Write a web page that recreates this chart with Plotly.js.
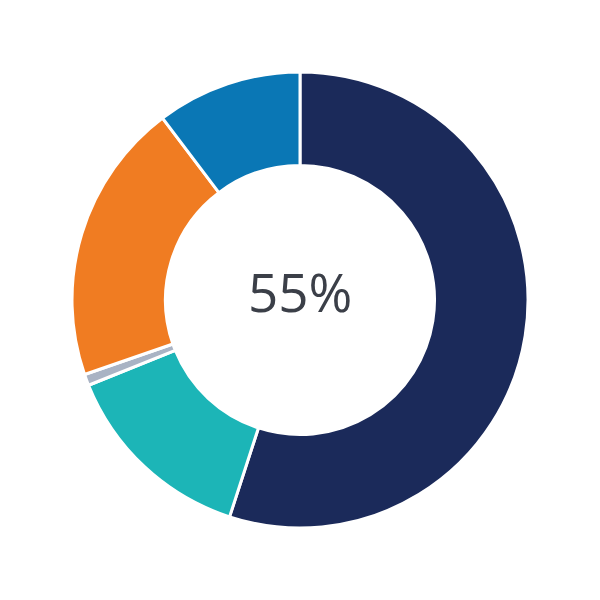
<!DOCTYPE html>
<html>
<head>
<meta charset="utf-8">
<script src="https://cdn.plot.ly/plotly-3.0.1.min.js"></script>
<style>html,body{margin:0;padding:0;background:#fff;}#chart{width:600px;height:600px;}</style>
</head>
<body>
<div id="chart"></div>
<script>
const categories = ["Segment 1", "Segment 2", "Segment 3", "Segment 4", "Segment 5"];
const values = [55, 13.9, 0.8, 20.0, 10.3];
const sliceColors = ["#1b2a5a", "#1cb5b7", "#a9b3c4", "#f07c22", "#0a77b5"];
const centerLabel = "55%";

const data = [{
  type: "pie",
  labels: categories,
  values: values,
  sort: false,
  direction: "clockwise",
  rotation: 0,
  hole: 0.59,
  textinfo: "none",
  hoverinfo: "label+percent",
  marker: {colors: sliceColors, line: {color: "#ffffff", width: 3}},
  domain: {x: [0.12, 0.88], y: [0.12, 0.88]}
}];

const layout = {
  width: 600, height: 600,
  margin: {l: 0, r: 0, t: 0, b: 0},
  paper_bgcolor: "#ffffff",
  showlegend: false,
  annotations: [{
    text: centerLabel,
    x: 0.5, y: 0.5, xref: "paper", yref: "paper",
    xanchor: "center", yanchor: "middle",
    yshift: 9,
    showarrow: false,
    font: {family: "Open Sans", size: 53, color: "#3b3f48"}
  }]
};

Plotly.newPlot("chart", data, layout, {displayModeBar: false, staticPlot: true});
</script>
</body>
</html>
